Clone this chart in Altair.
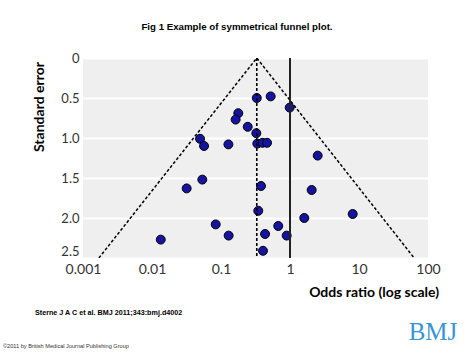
import altair as alt
import pandas as pd

# Study estimates (odds ratio, standard error)
odds_ratio = [0.33, 0.525, 0.99, 0.178, 0.163, 0.244, 0.325, 0.0497, 0.0568, 0.128,
              0.336, 0.40, 0.465, 2.52, 0.0536, 0.0318, 0.38, 0.347, 0.0838, 0.129,
              0.0134, 0.435, 0.676, 0.895, 0.406, 2.06, 1.61, 8.1]
std_error = [0.50, 0.48, 0.62, 0.69, 0.77, 0.86, 0.94, 1.01, 1.10, 1.08,
             1.07, 1.06, 1.06, 1.22, 1.52, 1.63, 1.60, 1.91, 2.08, 2.22,
             2.27, 2.20, 2.10, 2.22, 2.41, 1.65, 2.00, 1.95]

# Funnel outline (left end, apex, right end)
funnel_or = [0.0017, 0.33, 63]
funnel_se = [2.5, 0.0, 2.5]
funnel_order = [0, 1, 2]

pooled_or = [0.33]
null_or = [1]

x_ticks = [0.001, 0.01, 0.1, 1, 10, 100]
y_ticks = [0, 0.5, 1.0, 1.5, 2.0, 2.5]

title_text = ["Fig 1 Example of symmetrical funnel plot."]
cite_text = ["Sterne J A C et al. BMJ 2011;343:bmj.d4002"]
copy_text = ["\u00a92011 by British Medical Journal Publishing Group"]
logo_text = ["BMJ"]
xtitle_text = ["Odds ratio (log scale)"]
ytitle_text = ["Standard error"]

W, H = 345, 200

xscale = alt.Scale(type="log", domain=[0.001, 100])
yscale = alt.Scale(domain=[0, 2.5], reverse=True)

x_axis = alt.Axis(values=x_ticks, labelExpr="format(datum.value, '~g')",
                  grid=False, ticks=False, domain=False, title=None,
                  labelFont="Lato", labelFontSize=14, labelColor="#333",
                  labelPadding=4, labelFlush=False, labelBound=False,
                  labelOverlap=False)
y_axis = alt.Axis(values=y_ticks,
                  labelExpr="datum.value == 0 ? '0' : format(datum.value, '.1f')",
                  grid=True, gridColor="white", gridWidth=2, gridOpacity=1,
                  ticks=False, domain=False, title=None,
                  labelFont="Lato", labelFontSize=13, labelColor="#333",
                  labelPadding=4, labelFlush=False, labelBound=False,
                  labelOverlap=False,
                  labelBaseline=alt.condition("datum.value == 2.5",
                                              alt.value("bottom"),
                                              alt.value("middle")))

X = alt.X("or:Q", scale=xscale, axis=x_axis)
Y = alt.Y("se:Q", scale=yscale, axis=y_axis)

pts = pd.DataFrame({"or": odds_ratio, "se": std_error})
fun = pd.DataFrame({"or": funnel_or, "se": funnel_se, "o": funnel_order})

funnel = alt.Chart(fun).mark_line(color="black", strokeDash=[3, 2], strokeWidth=1.5,
                                  clip=True).encode(x=X, y=Y, order="o:Q")

pooled = alt.Chart(pd.DataFrame({"or": pooled_or})).mark_rule(
    color="black", strokeDash=[3, 2], strokeWidth=1.6).encode(x=X)

null_line = alt.Chart(pd.DataFrame({"or": null_or})).mark_rule(
    color="#222", strokeWidth=2).encode(x=X)

points = alt.Chart(pts).mark_point(filled=True, shape="circle", size=80,
                                   fill="#1414a0", stroke="black", strokeWidth=1,
                                   opacity=1).encode(x=X, y=Y)

def label(txt, x, y, **kw):
    return alt.Chart(pd.DataFrame({"t": txt})).mark_text(**kw).encode(
        text="t:N", x=alt.value(x), y=alt.value(y))

title = label(title_text, 154, -31, font="Liberation Sans", fontSize=9.7,
              fontWeight="bold", align="center", baseline="middle", color="black")
ytitle = label(ytitle_text, -43, 4, font="Lato", fontSize=14, fontWeight="bold",
               angle=270, align="right", baseline="middle", color="black")
xtitle = label(xtitle_text, 356, 235, font="Lato", fontSize=14, fontWeight="bold",
               align="right", baseline="middle", color="black")
cite = label(cite_text, -48, 255, font="Liberation Sans", fontSize=7.2,
             fontWeight="bold", align="left", baseline="middle", color="black")
copy = label(copy_text, -80, 288, font="Liberation Sans", fontSize=5.6,
             align="left", baseline="middle", color="#333")
logo = label(logo_text, 350, 274, font="Liberation Serif", fontSize=25,
             align="center", baseline="middle", color="#3a95d8")

chart = alt.layer(points, funnel, pooled, null_line, title, ytitle, xtitle,
                  cite, copy, logo).properties(
    width=W, height=H,
    autosize=alt.AutoSizeParams(type="none"),
    padding={"left": 83, "top": 58, "right": 46, "bottom": 97},
    background="white",
).configure_view(fill="#efefef", stroke=None)

chart.save("out.html", embed_options={"renderer": "svg", "actions": False})
